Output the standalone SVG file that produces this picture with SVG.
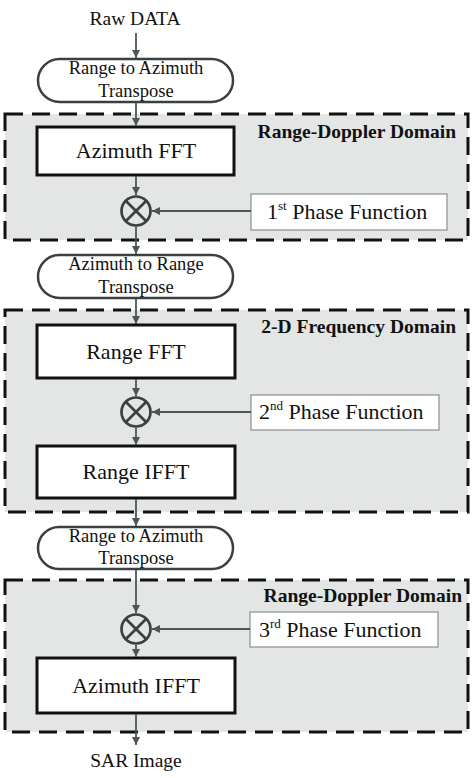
<svg xmlns="http://www.w3.org/2000/svg" width="474" height="778" viewBox="0 0 474 778">
<style>
text{font-family:"Liberation Serif","Times New Roman",serif;fill:#111}
.dom{fill:#e4e6e5;stroke:#111;stroke-width:3;stroke-dasharray:18 9}
.box{fill:#fff;stroke:#111;stroke-width:3}
.rbox{fill:#fff;stroke:#3a3f3f;stroke-width:2.5}
.pbox{fill:#fff;stroke:#8a8f8f;stroke-width:1.2}
.mul{fill:none;stroke:#3a4141;stroke-width:2.7}
.conn{stroke:#4d5555;stroke-width:1.8;fill:none;marker-end:url(#ah)}
.lbl{font-size:18.5px;text-anchor:middle}
.big{font-size:22px;text-anchor:middle}
.ph{font-size:22px}
.dl{font-size:19.5px;font-weight:bold;text-anchor:end}
.io{font-size:19.5px;text-anchor:middle}
</style>
<defs>
<marker id="ah" markerUnits="userSpaceOnUse" markerWidth="9" markerHeight="9" refX="8" refY="4" orient="auto">
<path d="M0,0 L8,4 L0,8 z" fill="#4d5555"/>
</marker>
</defs>

<g id="domain1"><rect class="dom" x="5" y="114" width="463" height="126"/><text class="dl" x="456" y="138">Range-Doppler Domain</text></g>
<g id="domain2"><rect class="dom" x="5" y="310" width="463" height="202"/><text class="dl" x="456" y="333">2-D Frequency Domain</text></g>
<g id="domain3"><rect class="dom" x="5" y="580" width="463" height="152"/><text class="dl" x="462" y="602">Range-Doppler Domain</text></g>

<g id="raw"><text class="io" x="135" y="25">Raw DATA</text></g>
<g id="transpose1"><rect class="rbox" x="38" y="59" width="195" height="43" rx="21.5"/><text class="lbl" x="136" y="74">Range to Azimuth</text><text class="lbl" x="136" y="97">Transpose</text></g>
<g id="azfft"><rect class="box" x="37" y="127" width="197" height="48"/><text class="big" x="136" y="158">Azimuth FFT</text></g>
<g id="mul1"><circle class="mul" cx="136" cy="211" r="14.5"/><path class="mul" d="M125.7,200.7 L146.3,221.3 M146.3,200.7 L125.7,221.3"/></g>
<g id="phase1"><rect class="pbox" x="251" y="194" width="196" height="36"/><text class="ph" x="267" y="219">1<tspan font-size="13" dy="-9">st</tspan><tspan dy="9"> Phase Function</tspan></text></g>

<g id="transpose2"><rect class="rbox" x="38" y="255" width="195" height="43" rx="21.5"/><text class="lbl" x="136" y="270">Azimuth to Range</text><text class="lbl" x="136" y="293">Transpose</text></g>
<g id="rfft"><rect class="box" x="37" y="325" width="198" height="53"/><text class="big" x="136" y="359">Range FFT</text></g>
<g id="mul2"><circle class="mul" cx="136" cy="412" r="14.5"/><path class="mul" d="M125.7,401.7 L146.3,422.3 M146.3,401.7 L125.7,422.3"/></g>
<g id="phase2"><rect class="pbox" x="251" y="395" width="188" height="35"/><text class="ph" x="259" y="419">2<tspan font-size="13" dy="-9">nd</tspan><tspan dy="9"> Phase Function</tspan></text></g>
<g id="rifft"><rect class="box" x="37" y="446" width="198" height="52"/><text class="big" x="136" y="479">Range IFFT</text></g>

<g id="transpose3"><rect class="rbox" x="38" y="527" width="195" height="42" rx="21"/><text class="lbl" x="136" y="542">Range to Azimuth</text><text class="lbl" x="136" y="564">Transpose</text></g>
<g id="mul3"><circle class="mul" cx="136" cy="629" r="14.5"/><path class="mul" d="M125.7,618.7 L146.3,639.3 M146.3,618.7 L125.7,639.3"/></g>
<g id="phase3"><rect class="pbox" x="250" y="612" width="188" height="35"/><text class="ph" x="259" y="637">3<tspan font-size="13" dy="-9">rd</tspan><tspan dy="9"> Phase Function</tspan></text></g>
<g id="azifft"><rect class="box" x="37" y="658" width="198" height="55"/><text class="big" x="136" y="693">Azimuth IFFT</text></g>
<g id="sar"><text class="io" x="136" y="767">SAR Image</text></g>

<g id="connectors">
<path class="conn" d="M136,33 V58"/>
<path class="conn" d="M136,103 V126"/>
<path class="conn" d="M136,176 V195"/>
<path class="conn" d="M251,211 H152"/>
<path class="conn" d="M136,227 V254"/>
<path class="conn" d="M136,299 V324"/>
<path class="conn" d="M136,379 V396"/>
<path class="conn" d="M251,412 H152"/>
<path class="conn" d="M136,428 V445"/>
<path class="conn" d="M136,499 V526"/>
<path class="conn" d="M136,570 V613"/>
<path class="conn" d="M250,629 H152"/>
<path class="conn" d="M136,645 V657"/>
<path class="conn" d="M136,714 V745"/>
</g>
</svg>
